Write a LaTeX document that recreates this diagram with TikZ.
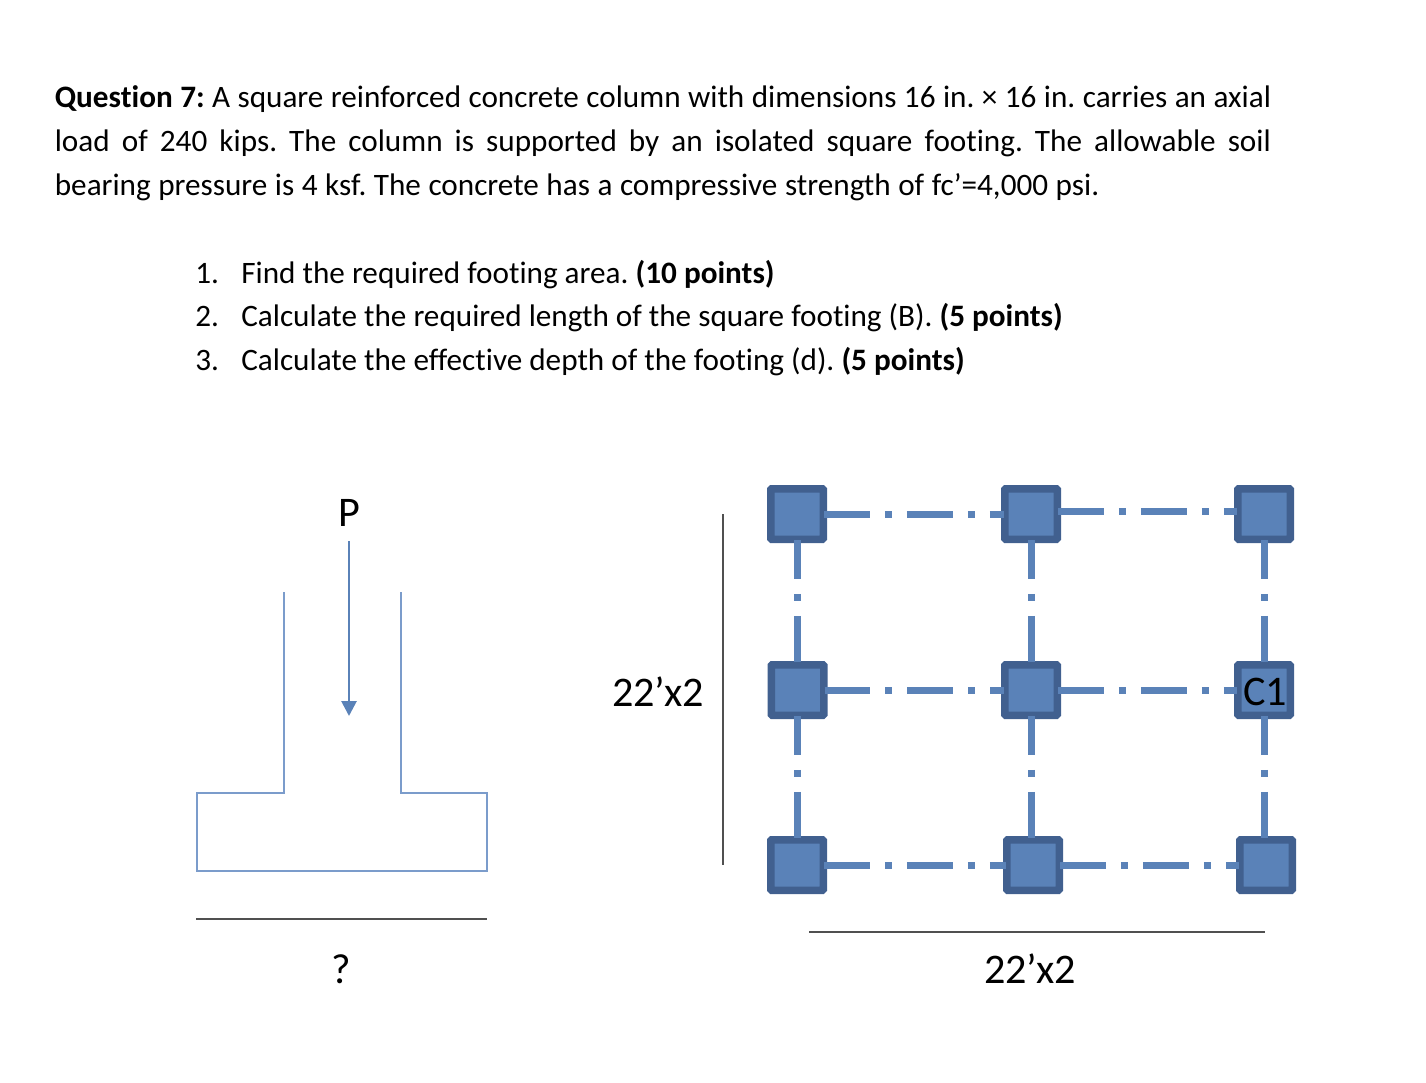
\documentclass[tikz,border=0pt]{standalone}
\usepackage{fontspec}
\setmainfont[Ligatures=NoCommon]{Carlito}
\usetikzlibrary{arrows.meta}
\definecolor{colfill}{HTML}{5A82B8}
\definecolor{colline}{HTML}{41608F}
\definecolor{thinblue}{HTML}{7B9CCB}
\definecolor{dimgrey}{HTML}{505050}
\frenchspacing
\tikzset{
	qtext/.style={anchor=base west, inner sep=0pt, font=\fontsize{17.75}{20}\selectfont},
	label/.style={inner sep=0pt, font=\fontsize{24}{28}\selectfont},
	column/.style={draw=colline, fill=colfill, line width=.15cm, minimum width=1.05cm, minimum height=1.01cm, inner sep=0pt, rounded corners=.5pt},
	axisline/.style={colfill, line width=.14cm, dash pattern=on .92cm off .3cm on .14cm off .3cm, shorten <=-.06cm, shorten >=-.06cm},
	dimline/.style={dimgrey, line width=.035cm},
	footing/.style={thinblue, line width=.04cm}
}
\begin{document}
\begin{tikzpicture}[x=.02cm,y=-.02cm]
	\useasboundingbox (0,0) rectangle (1426,1082);

	% question text
	\node[qtext] (line1) at (54.5,107.5) {\makebox[24.33cm][s]{\textbf{Question 7:} A square reinforced concrete column with dimensions 16 in. × 16 in. carries an axial}};
	\node[qtext] (line2) at (54.5,151.5) {\makebox[24.33cm][s]{load of 240 kips. The column is supported by an isolated square footing. The allowable soil}};
	\node[qtext] (line3) at (54.5,195.5) {\makebox[20.89cm][s]{bearing pressure is 4 ksf. The concrete has a compressive strength of fc’=4,000 psi.}};

	\foreach \n/\y/\t in {1/283.5/{Find the required footing area. \textbf{(10 points)}},
		2/326.5/{Calculate the required length of the square footing (B). \textbf{(5 points)}},
		3/370.5/{Calculate the effective depth of the footing (d). \textbf{(5 points)}}}
	{
		\node[qtext] (num\n) at (195,\y) {\n.};
		\node[qtext] (item\n) at (241,\y) {\t};
	}

	% footing section
	\coordinate (colL) at (284,592);
	\coordinate (colR) at (401,592);
	\draw[footing] (colL) -- (284,793) -- (197,793) -- (197,871) -- (487,871) -- (487,793) -- (401,793) -- (colR);
	\node[label] (loadP) at (349,513) {P};
	\coordinate (loadEnd) at (349,716);
	\draw[colfill, line width=.055cm, -{Triangle[length=.3cm,width=.3cm]}] (349,541) -- (loadEnd);
	\coordinate (widthL) at (196,919);
	\coordinate (widthR) at (487,919);
	\draw[dimline] (widthL) -- (widthR);
	\node[label] (widthQ) at (341,969) {?};

	% column plan
	\foreach \name/\x/\y in {c11/797/514, c12/1031/514, c13/1264/514,
		c21/797.5/690, c22/1031/690, c23/1264/690,
		c31/797/865, c32/1033/865, c33/1266/865}
	\node[column] (\name) at (\x,\y) {};

	\foreach \r in {2,3}
	{
		\draw[axisline] (c\r1.east) -- (c\r2.west);
		\draw[axisline] (c\r2.east) -- (c\r3.west);
	}
	\draw[axisline] (c11.east) -- (c12.west);
	\draw[axisline] ([yshift=.05cm]c12.east) -- ([yshift=.05cm]c13.west);
	\foreach \c in {1,2,3}
	{
		\draw[axisline, dash phase=.14cm] (c1\c.south) -- (c1\c.south |- c2\c.north);
		\draw[axisline, dash phase=.14cm] (c2\c.south) -- (c2\c.south |- c3\c.north);
	}
	\node[label] (labC) at ([xshift=.02cm,yshift=-.04cm]c23) {C1};

	\coordinate (dimVtop) at (723,514);
	\coordinate (dimVbot) at (723,865);
	\draw[dimline] (dimVtop) -- (dimVbot);
	\node[label] (dimVlab) at (658,692) {22’x2};
	\coordinate (dimHl) at (809,932);
	\coordinate (dimHr) at (1265,932);
	\draw[dimline] (dimHl) -- (dimHr);
	\node[label] (dimHlab) at (1030,969) {22’x2};
\end{tikzpicture}
\end{document}
